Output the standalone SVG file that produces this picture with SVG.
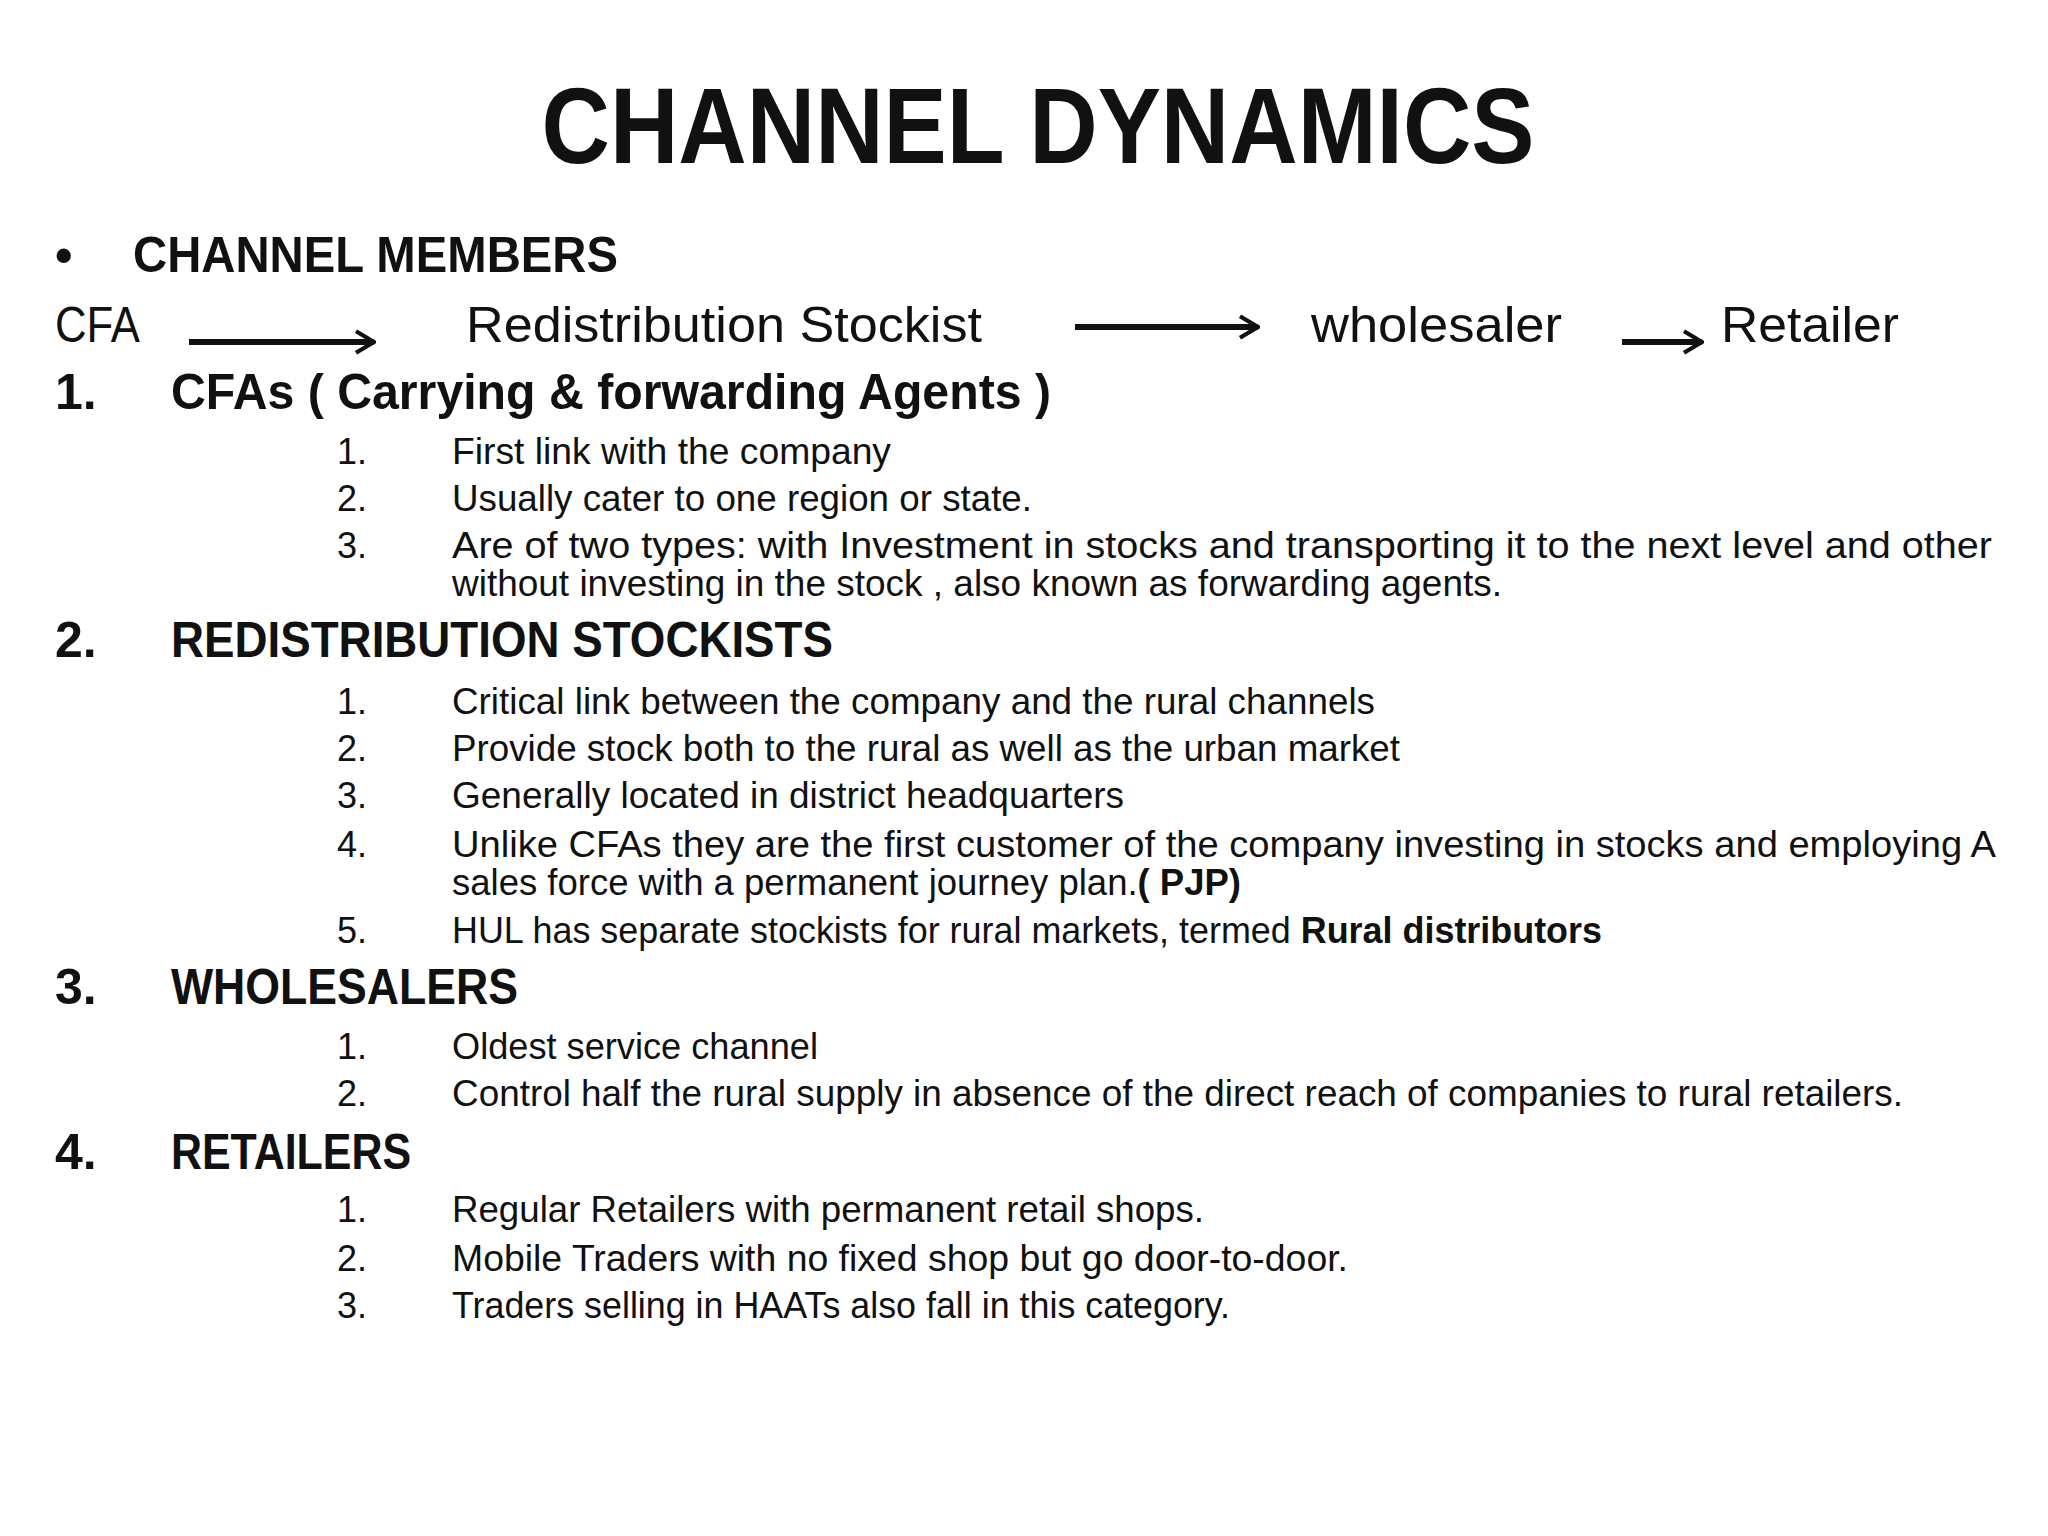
<svg xmlns="http://www.w3.org/2000/svg" width="2048" height="1536" viewBox="0 0 2048 1536">
<style>
text{font-family:"Liberation Sans",Arial,sans-serif;fill:#111}
.h{font-weight:bold;font-size:50px}
.s{font-size:36px}
.r{font-size:50px}
.b{font-weight:bold}
</style>
<defs><marker id="a" markerWidth="10" markerHeight="10" refX="8" refY="5" orient="auto" markerUnits="userSpaceOnUse" viewBox="0 0 10 10"><path d="M1,0 L9,5 L1,10" fill="none" stroke="#111" stroke-width="2"/></marker>
<marker id="ah" viewBox="0 0 20 20" refX="18" refY="10" markerWidth="24" markerHeight="30" orient="auto" markerUnits="userSpaceOnUse"><path d="M3,1 L18,10 L3,19" fill="none" stroke="#111" stroke-width="3.5"/></marker></defs>
<rect width="2048" height="1536" fill="#fff"/>
<text x="1038" y="163" text-anchor="middle" font-weight="bold" font-size="108" textLength="993" lengthAdjust="spacingAndGlyphs">CHANNEL DYNAMICS</text>
<g id="members">
<text x="55" y="272" class="h">•</text>
<text x="133" y="272" class="h" textLength="485" lengthAdjust="spacingAndGlyphs">CHANNEL MEMBERS</text>
<text x="55" y="342" class="r" textLength="85" lengthAdjust="spacingAndGlyphs">CFA</text>
<text x="466" y="342" class="r" textLength="516" lengthAdjust="spacingAndGlyphs">Redistribution Stockist</text>
<text x="1311" y="342" class="r" textLength="251" lengthAdjust="spacingAndGlyphs">wholesaler</text>
<text x="1721" y="342" class="r" textLength="178" lengthAdjust="spacingAndGlyphs">Retailer</text>
</g>
<g id="connectors" stroke="#111" stroke-width="6" fill="none">
<line x1="189" y1="342" x2="374" y2="342" marker-end="url(#ah)"/>
<line x1="1075" y1="327" x2="1258" y2="327" marker-end="url(#ah)"/>
<line x1="1622" y1="342" x2="1702" y2="342" marker-end="url(#ah)"/>
</g>
<g id="s1">
<text x="55" y="409" class="h">1.</text>
<text x="171" y="409" class="h" textLength="880" lengthAdjust="spacingAndGlyphs">CFAs ( Carrying &amp; forwarding Agents )</text>
<text x="337" y="464" class="s">1.</text><text x="452" y="464" class="s" textLength="439" lengthAdjust="spacingAndGlyphs">First link with the company</text>
<text x="337" y="511" class="s">2.</text><text x="452" y="511" class="s" textLength="580" lengthAdjust="spacingAndGlyphs">Usually cater to one region or state.</text>
<text x="337" y="558" class="s">3.</text><text x="452" y="558" class="s" textLength="1540" lengthAdjust="spacingAndGlyphs">Are of two types: with Investment in stocks and transporting it to the next level and other</text>
<text x="452" y="596" class="s" textLength="1050" lengthAdjust="spacingAndGlyphs">without investing in the stock , also known as forwarding agents.</text>
</g>
<g id="s2">
<text x="55" y="657" class="h">2.</text>
<text x="171" y="657" class="h" textLength="662" lengthAdjust="spacingAndGlyphs">REDISTRIBUTION STOCKISTS</text>
<text x="337" y="714" class="s">1.</text><text x="452" y="714" class="s" textLength="923" lengthAdjust="spacingAndGlyphs">Critical link between the company and the rural channels</text>
<text x="337" y="761" class="s">2.</text><text x="452" y="761" class="s" textLength="948" lengthAdjust="spacingAndGlyphs">Provide stock both to the rural as well as the urban market</text>
<text x="337" y="808" class="s">3.</text><text x="452" y="808" class="s" textLength="672" lengthAdjust="spacingAndGlyphs">Generally located in district headquarters</text>
<text x="337" y="857" class="s">4.</text><text x="452" y="857" class="s" textLength="1544" lengthAdjust="spacingAndGlyphs">Unlike CFAs they are the first customer of the company investing in stocks and employing A</text>
<text x="452" y="895" class="s" textLength="789" lengthAdjust="spacingAndGlyphs">sales  force with a permanent journey plan.<tspan class="b">( PJP)</tspan></text>
<text x="337" y="943" class="s">5.</text><text x="452" y="943" class="s" textLength="1150" lengthAdjust="spacingAndGlyphs">HUL has separate stockists for rural markets, termed <tspan class="b">Rural distributors</tspan></text>
</g>
<g id="s3">
<text x="55" y="1004" class="h">3.</text>
<text x="171" y="1004" class="h" textLength="347" lengthAdjust="spacingAndGlyphs">WHOLESALERS</text>
<text x="337" y="1059" class="s">1.</text><text x="452" y="1059" class="s" textLength="366" lengthAdjust="spacingAndGlyphs">Oldest service channel</text>
<text x="337" y="1106" class="s">2.</text><text x="452" y="1106" class="s" textLength="1451" lengthAdjust="spacingAndGlyphs">Control half the rural supply in absence of the direct reach of companies to rural retailers.</text>
</g>
<g id="s4">
<text x="55" y="1169" class="h">4.</text>
<text x="171" y="1169" class="h" textLength="240" lengthAdjust="spacingAndGlyphs">RETAILERS</text>
<text x="337" y="1222" class="s">1.</text><text x="452" y="1222" class="s" textLength="752" lengthAdjust="spacingAndGlyphs">Regular Retailers with permanent retail shops.</text>
<text x="337" y="1271" class="s">2.</text><text x="452" y="1271" class="s" textLength="896" lengthAdjust="spacingAndGlyphs">Mobile Traders with no fixed shop but go door-to-door.</text>
<text x="337" y="1318" class="s">3.</text><text x="452" y="1318" class="s" textLength="778" lengthAdjust="spacingAndGlyphs">Traders selling in HAATs also fall in this category.</text>
</g>
</svg>
